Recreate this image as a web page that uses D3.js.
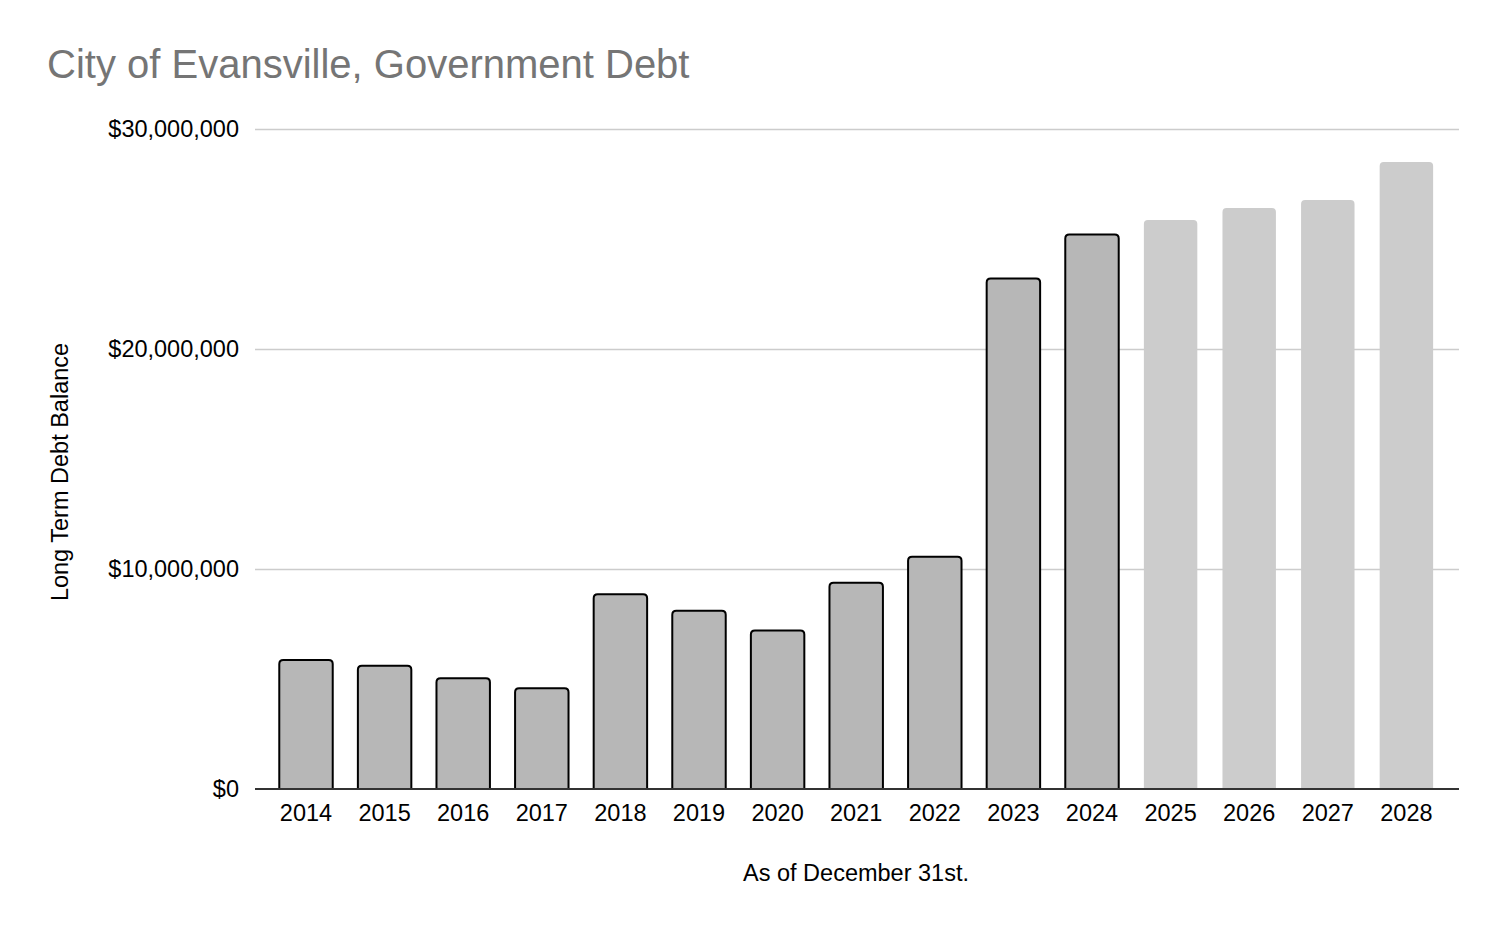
<!DOCTYPE html>
<html>
<head>
<meta charset="utf-8">
<script src="https://cdn.jsdelivr.net/npm/d3@7/dist/d3.min.js"></script>
<style>
  html, body { margin: 0; padding: 0; background: #fff; }
  svg { display: block; font-family: "Liberation Sans", Arial, sans-serif; }
</style>
</head>
<body>
<svg id="chart" width="1506" height="932"></svg>
<script>
const years = ["2014","2015","2016","2017","2018","2019","2020","2021","2022","2023","2024","2025","2026","2027","2028"];
const debt = [5860000, 5600000, 5030000, 4580000, 8850000, 8100000, 7200000, 9380000, 10560000, 23200000, 25200000, 25860000, 26410000, 26770000, 28500000];
const projected = [false,false,false,false,false,false,false,false,false,false,false,true,true,true,true];
const yTicks = [0, 10000000, 20000000, 30000000];
const title = "City of Evansville, Government Debt";
const xTitle = "As of December 31st.";
const yTitle = "Long Term Debt Balance";

const data = years.map((yr, i) => ({year: yr, value: debt[i], proj: projected[i]}));

const svg = d3.select("#chart");
const pLeft = 255, pRight = 1459, pTop = 129, pBottom = 789;

const x = d3.scaleBand().domain(years).range([255.7, 1456.7]).paddingInner(0.32).paddingOuter(0.3);
const y = d3.scaleLinear().domain([0, 30000000]).range([pBottom, pTop]);

// title
svg.append("text").attr("x", 47).attr("y", 78)
  .attr("font-size", 40).attr("fill", "#757575").text(title);

// gridlines
svg.append("g").selectAll("line").data(yTicks.filter(d => d > 0)).join("line")
  .attr("x1", pLeft).attr("x2", pRight)
  .attr("y1", d => Math.round(y(d)) + 0.5).attr("y2", d => Math.round(y(d)) + 0.5)
  .attr("stroke", "#cccccc").attr("stroke-width", 1.3);

// y tick labels
const fmt = d => "$" + d3.format(",")(d);
svg.append("g").selectAll("text").data(yTicks).join("text")
  .attr("x", 239).attr("y", d => y(d)).attr("dy", "0.35em")
  .attr("text-anchor", "end").attr("font-size", 23.5).attr("fill", "#000")
  .text(fmt);

// bars with rounded top corners
function barPath(d) {
  const x0 = x(d.year), w = x.bandwidth();
  const yt = y(d.value), yb = y(0);
  const r = 4;
  return `M${x0},${yb} L${x0},${yt + r} Q${x0},${yt} ${x0 + r},${yt} L${x0 + w - r},${yt} Q${x0 + w},${yt} ${x0 + w},${yt + r} L${x0 + w},${yb} Z`;
}
svg.append("g").selectAll("path").data(data).join("path")
  .attr("d", barPath)
  .attr("fill", d => d.proj ? "#cccccc" : "#b7b7b7")
  .attr("stroke", d => d.proj ? "none" : "#000")
  .attr("stroke-width", 2);

// baseline
svg.append("line").attr("x1", pLeft).attr("x2", pRight)
  .attr("y1", pBottom).attr("y2", pBottom)
  .attr("stroke", "#333").attr("stroke-width", 2);

// x tick labels
svg.append("g").selectAll("text").data(years).join("text")
  .attr("x", d => x(d) + x.bandwidth() / 2).attr("y", 821)
  .attr("text-anchor", "middle").attr("font-size", 23.5).attr("fill", "#000")
  .text(d => d);

// axis titles
svg.append("text").attr("x", 856).attr("y", 881)
  .attr("text-anchor", "middle").attr("font-size", 23.5).attr("fill", "#000").text(xTitle);
svg.append("text")
  .attr("transform", "translate(68,472) rotate(-90)")
  .attr("text-anchor", "middle").attr("font-size", 23.5).attr("fill", "#000").text(yTitle);
</script>
</body>
</html>
